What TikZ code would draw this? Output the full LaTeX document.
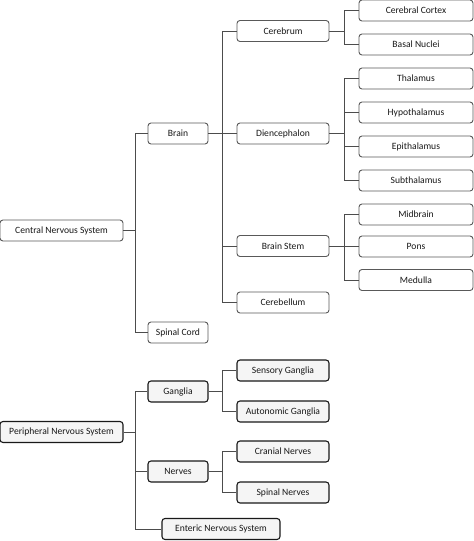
\documentclass[tikz,border=0pt]{standalone}
\usepackage{fontspec}
\setmainfont{Carlito}
\begin{document}
\begin{tikzpicture}[x=1pt,y=-1pt,
  cbox/.style={draw=black!65, line width=0.9pt, rounded corners=3pt, fill=white, inner sep=0pt, minimum height=21pt, font=\fontsize{9.6}{11}\selectfont, text=black!90},
  pbox/.style={cbox, draw=black!90, line width=1.1pt, fill=black!4},
  w1/.style={minimum width=123pt},
  w2/.style={minimum width=60pt},
  w3/.style={minimum width=92pt},
  w4/.style={minimum width=114pt},
  link/.style={draw=black!70, line width=1pt}]
\useasboundingbox (0,0) rectangle (474,541);
% bars
\coordinate (b1) at (135,0);
\coordinate (b2) at (222,0);
\coordinate (b3) at (344,0);
% CNS
\node[cbox,w1] (cns) at (61.5,230.5) {Central Nervous System};
\node[cbox,w2] (brain) at (178,133.5) {Brain};
\node[cbox,w2] (spinal) at (178,332.5) {Spinal Cord};
\node[cbox,w3] (cerebrum) at (283,31) {Cerebrum};
\node[cbox,w3] (dien) at (283,133.5) {Diencephalon};
\node[cbox,w3] (stem) at (283,246) {Brain Stem};
\node[cbox,w3] (cbl) at (283,302.5) {Cerebellum};
\node[cbox,w4] (cortex) at (416,10.5) {Cerebral Cortex};
\node[cbox,w4] (basal) at (416,44.5) {Basal Nuclei};
\node[cbox,w4] (thal) at (416,78.5) {Thalamus};
\node[cbox,w4] (hypo) at (416,112.5) {Hypothalamus};
\node[cbox,w4] (epi) at (416,146.5) {Epithalamus};
\node[cbox,w4] (sub) at (416,180.5) {Subthalamus};
\node[cbox,w4] (mid) at (416,214.5) {Midbrain};
\node[cbox,w4] (pons) at (416,246.5) {Pons};
\node[cbox,w4] (med) at (416,280) {Medulla};
% PNS
\node[pbox,w1] (pns) at (61.5,432) {Peripheral Nervous System};
\node[pbox,w2] (gang) at (178,391.5) {Ganglia};
\node[pbox,w2] (nerves) at (178,471.5) {Nerves};
\node[pbox,minimum width=118pt] (ent) at (221,529) {Enteric Nervous System};
\node[pbox,w3] (sens) at (283,370.5) {Sensory Ganglia};
\node[pbox,w3] (auto) at (283,411.5) {Autonomic Ganglia};
\node[pbox,w3] (cran) at (283,451.5) {Cranial Nerves};
\node[pbox,w3] (spn) at (283,492.5) {Spinal Nerves};
% links CNS
\draw[link] (cns.east) -- (cns.east -| b1);
\draw[link] (brain.west) -- (brain.west -| b1) |- (spinal.west);
\draw[link] (brain.east) -- (brain.east -| b2);
\draw[link] (cerebrum.west) -- (cerebrum.west -| b2) |- (cbl.west);
\draw[link] (dien.west) -- (dien.west -| b2);
\draw[link] (stem.west) -- (stem.west -| b2);
\draw[link] (cerebrum.east) -- (cerebrum.east -| b3);
\draw[link] (cortex.west) -- (cortex.west -| b3) |- (basal.west);
\draw[link] (dien.east) -- (dien.east -| b3);
\draw[link] (thal.west) -- (thal.west -| b3) |- (sub.west);
\draw[link] (hypo.west) -- (hypo.west -| b3);
\draw[link] (epi.west) -- (epi.west -| b3);
\draw[link] (stem.east) -- (stem.east -| b3);
\draw[link] (mid.west) -- (mid.west -| b3) |- (med.west);
\draw[link] (pons.west) -- (pons.west -| b3);
% links PNS
\draw[link] (pns.east) -- (pns.east -| b1);
\draw[link] (gang.west) -- (gang.west -| b1) |- (ent.west);
\draw[link] (nerves.west) -- (nerves.west -| b1);
\draw[link] (gang.east) -- (gang.east -| b2);
\draw[link] (sens.west) -- (sens.west -| b2) |- (auto.west);
\draw[link] (nerves.east) -- (nerves.east -| b2);
\draw[link] (cran.west) -- (cran.west -| b2) |- (spn.west);
\end{tikzpicture}
\end{document}
